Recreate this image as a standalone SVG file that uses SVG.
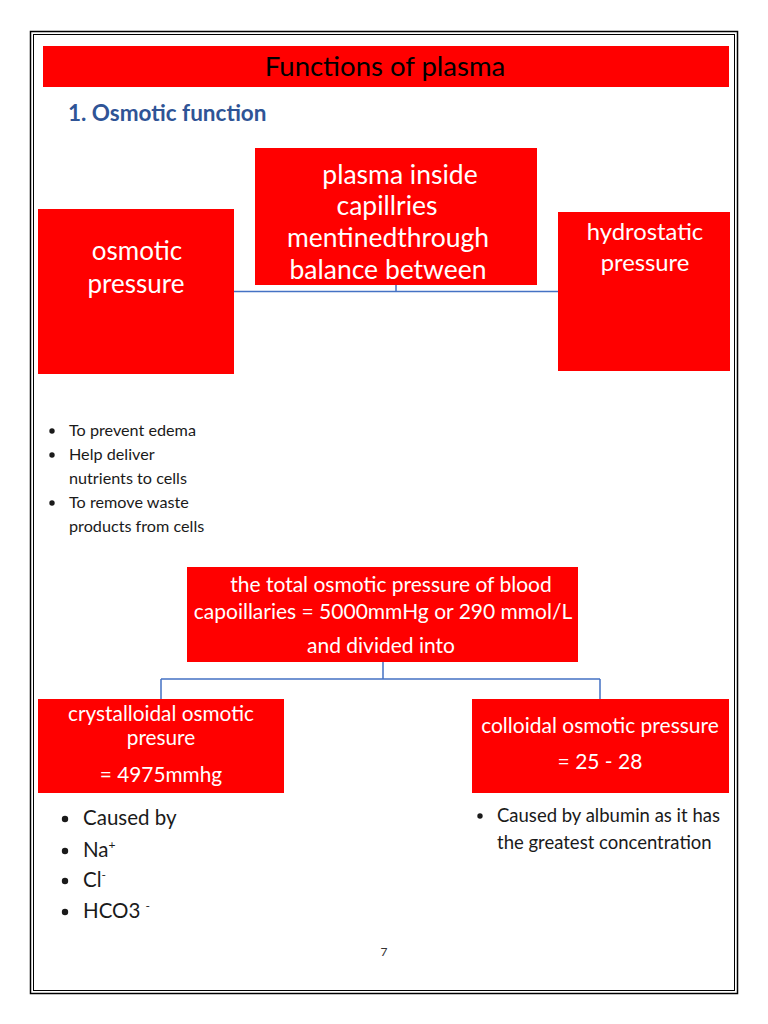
<svg xmlns="http://www.w3.org/2000/svg" width="768" height="1024" viewBox="0 0 768 1024">
<style>
.box{fill:#ff0000}
.wt{fill:#ffffff;font-family:Lato,"Open Sans",sans-serif;text-anchor:middle}
.bt{fill:#1a1a1a;font-family:Lato,"Open Sans",sans-serif}
.conn{stroke:#4472c4;stroke-width:1.5;fill:none}
</style>
<rect width="768" height="1024" fill="#ffffff"/>
<rect x="30.5" y="31.5" width="707" height="962" fill="none" stroke="#000" stroke-width="1.5"/>
<rect x="33.5" y="34.5" width="701" height="956" fill="none" stroke="#000" stroke-width="1"/>
<g id="title">
<rect x="43" y="46" width="686" height="41" class="box"/>
<text x="385" y="76" font-family="Lato,'Open Sans',sans-serif" font-size="27.5" fill="#000" text-anchor="middle">Functions of plasma</text>
</g>
<text x="68" y="121" font-family="Lato,'Open Sans',sans-serif" font-size="22.5" font-weight="bold" fill="#2f5496">1. Osmotic function</text>
<g id="connectors">
<path class="conn" d="M234 291.5H558M396 285V291.5"/>
<path class="conn" d="M383 662V679M161 679H600M161 679V699M600 679V699"/>
</g>
<g id="central">
<rect x="255" y="148" width="282" height="137" class="box"/>
<text class="wt" font-size="26.5"><tspan x="400" y="184">plasma inside</tspan><tspan x="387" y="215">capillries</tspan><tspan x="388" y="247">mentinedthrough</tspan><tspan x="388" y="279">balance between</tspan></text>
</g>
<g id="osmotic">
<rect x="38" y="209" width="196" height="165" class="box"/>
<text class="wt" font-size="26"><tspan x="137" y="260">osmotic</tspan><tspan x="136" y="293">pressure</tspan></text>
</g>
<g id="hydrostatic">
<rect x="558" y="212" width="172" height="159" class="box"/>
<text class="wt" font-size="23.8"><tspan x="645" y="240">hydrostatic</tspan><tspan x="645" y="271">pressure</tspan></text>
</g>
<g id="bullets1" class="bt" font-size="16.2">
<circle cx="52" cy="431" r="2.7" fill="#1a1a1a"/>
<circle cx="52" cy="455" r="2.7" fill="#1a1a1a"/>
<circle cx="52" cy="503" r="2.7" fill="#1a1a1a"/>
<text x="69" y="436">To prevent edema</text>
<text x="69" y="460">Help deliver</text>
<text x="69" y="484">nutrients to cells</text>
<text x="69" y="508">To remove waste</text>
<text x="69" y="532">products from cells</text>
</g>
<g id="total">
<rect x="187" y="567" width="391" height="95" class="box"/>
<text class="wt" font-size="21"><tspan x="391" y="592">the total osmotic pressure of blood</tspan><tspan x="383" y="619">capoillaries = 5000mmHg or 290 mmol/L</tspan><tspan x="381" y="653">and divided into</tspan></text>
</g>
<g id="crystalloidal">
<rect x="38" y="699" width="246" height="94" class="box"/>
<text class="wt" font-size="20.8"><tspan x="161" y="721">crystalloidal osmotic</tspan><tspan x="161" y="745">presure</tspan><tspan x="161" y="782">= 4975mmhg</tspan></text>
</g>
<g id="colloidal">
<rect x="472" y="699" width="257" height="94" class="box"/>
<text class="wt" font-size="21"><tspan x="600" y="733">colloidal osmotic pressure</tspan><tspan x="600" y="769">= 25 - 28</tspan></text>
</g>
<g id="bullets2" class="bt" font-size="20.5">
<circle cx="65" cy="819" r="3.2" fill="#1a1a1a"/>
<circle cx="65" cy="851" r="3.2" fill="#1a1a1a"/>
<circle cx="65" cy="881" r="3.2" fill="#1a1a1a"/>
<circle cx="65" cy="912" r="3.2" fill="#1a1a1a"/>
<text x="83" y="825">Caused by</text>
<text x="83" y="857">Na<tspan font-size="12" dy="-8">+</tspan></text>
<text x="83" y="887">Cl<tspan font-size="12" dy="-8">-</tspan></text>
<text x="83" y="918">HCO3 <tspan font-size="12" dy="-8">-</tspan></text>
</g>
<g id="bullets3" class="bt" font-size="18.5">
<circle cx="480" cy="816" r="2.7" fill="#1a1a1a"/>
<text x="497" y="822">Caused by albumin as it has</text>
<text x="497" y="849">the greatest concentration</text>
</g>
<text x="384" y="956" font-family="Lato,'Open Sans',sans-serif" font-size="12" fill="#333" text-anchor="middle">7</text>
</svg>
